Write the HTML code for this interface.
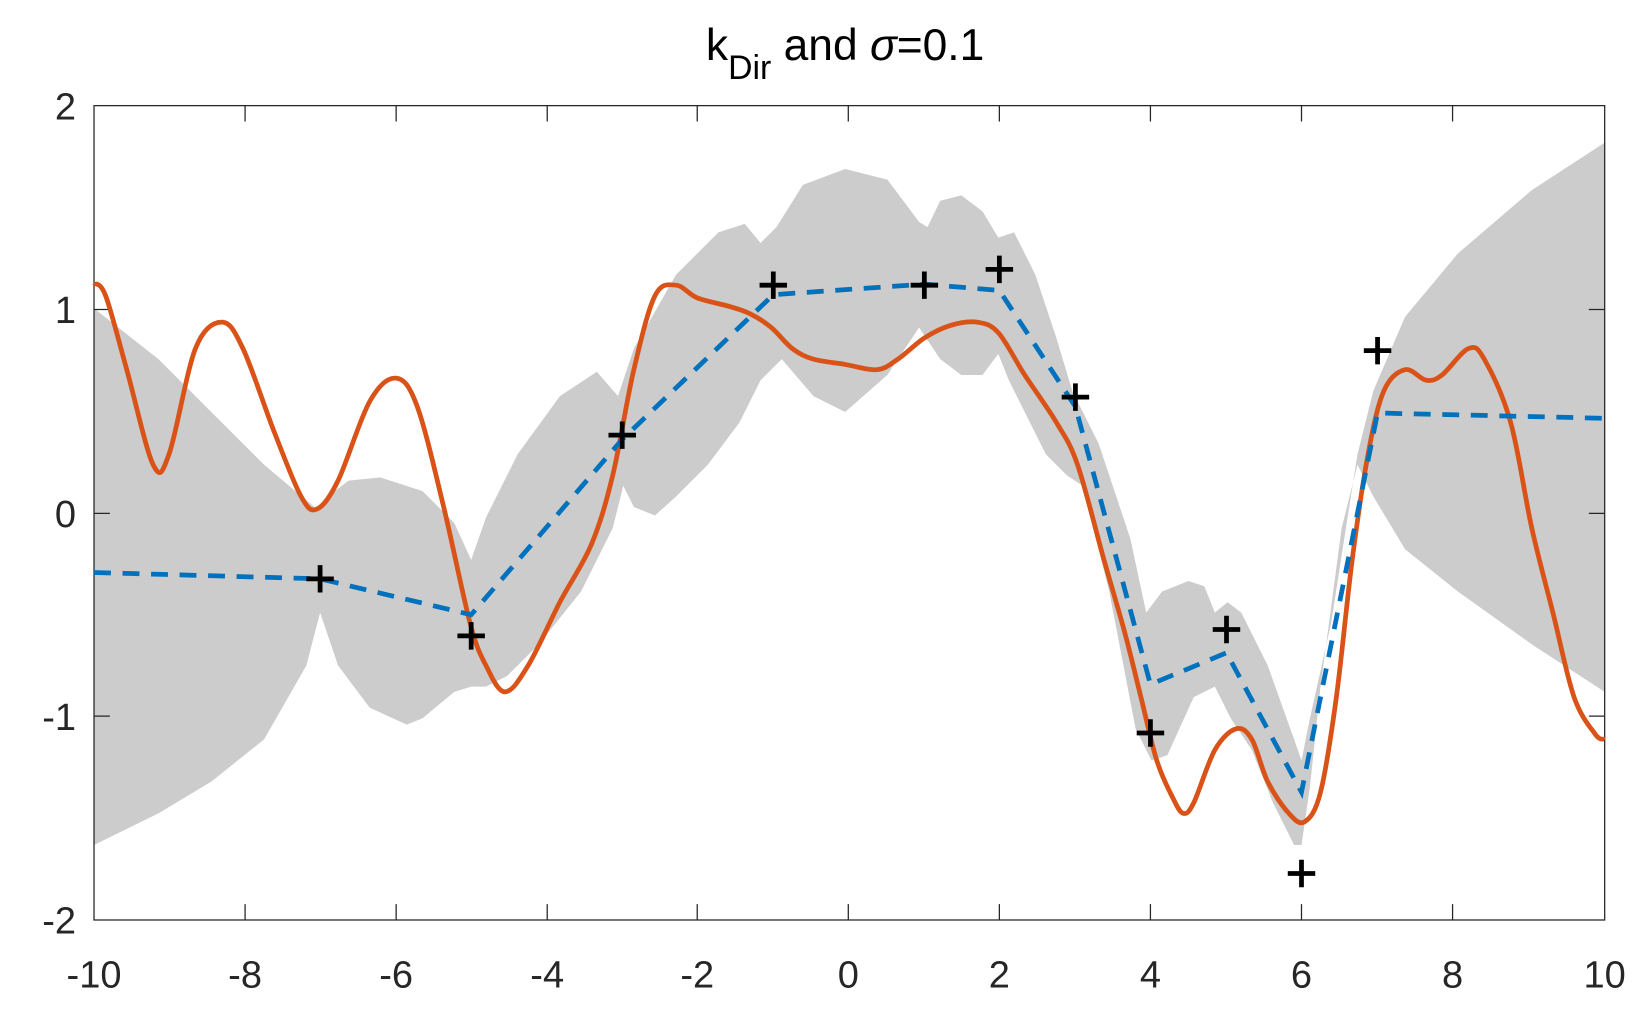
<!DOCTYPE html>
<html><head><meta charset="utf-8"><style>html,body{margin:0;padding:0;background:#fff}svg{display:block}</style></head>
<body>
<svg id="s" width="1648" height="1014" viewBox="0 0 1560 960" preserveAspectRatio="none" xmlns="http://www.w3.org/2000/svg" font-family="Liberation Sans, sans-serif">
<rect width="1560" height="960" fill="#fff"/>
<path id="band" fill="#cccccc" stroke="none" d="M89,292 L150,340 L200,390 L250,440 L300,482 L310,470 L330,455 L360,452 L400,465 L430,495 L446,530 L460,490 L490,430 L530,375 L565,352 L585,375 L600,330 L640,260 L680,220 L705,212 L720,230 L735,215 L760,175 L800,160 L840,170 L870,210 L878,215 L890,190 L910,185 L930,200 L945,225 L960,220 L980,260 L1000,320 L1015,370 L1040,420 L1070,510 L1085,580 L1100,560 L1125,550 L1140,555 L1150,580 L1162,570 L1175,580 L1200,630 L1225,700 L1232,720 L1240,680 L1260,590 L1285,430 L1300,370 L1330,300 L1380,240 L1450,180 L1519,135 L1519,655 L1450,610 L1380,560 L1330,520 L1300,470 L1285,440 L1270,500 L1250,650 L1240,745 L1232,800 L1225,800 L1205,760 L1185,710 L1165,680 L1150,650 L1130,660 L1105,715 L1090,720 L1075,690 L1050,560 L1025,460 L1010,450 L990,430 L970,390 L955,360 L945,335 L930,355 L910,355 L890,340 L870,310 L840,355 L800,390 L770,375 L740,340 L720,360 L700,400 L670,440 L640,470 L620,488 L600,480 L590,460 L580,500 L550,560 L510,610 L480,640 L460,650 L446,650 L430,655 L400,680 L385,686 L350,670 L320,630 L303,580 L290,630 L250,700 L200,740 L150,770 L89,800 Z"/>
<g stroke="#262626" stroke-width="1.2" fill="none">
<rect x="89" y="100" width="1430" height="771"/>
<path d="M232,871v-15M375,871v-15M518,871v-15M660,871v-15M803,871v-15M946,871v-15M1089,871v-15M1232,871v-15M1375,871v-15M232,100v15M375,100v15M518,100v15M660,100v15M803,100v15M946,100v15M1089,100v15M1232,100v15M1375,100v15M89,293h15M89,486h15M89,678h15M1519,293h-15M1519,486h-15M1519,678h-15"/>
</g>
<path id="orange" fill="none" stroke="#D95319" stroke-width="4.5" stroke-linejoin="round" d=""/>
<polyline fill="none" stroke="#0072BD" stroke-width="4.5" stroke-dasharray="16,11" points="89,542 303,548 446,582 589,416 732,279 875,269 946,275 1018,385 1089,648 1161,618 1232,750 1304,391 1519,396"/>
<g stroke="#000" stroke-width="4.5">
<path d="M290,548h26M303,535v26M433,602h26M446,589v26M576,412h26M589,399v26M719,270h26M732,257v26M862,270h26M875,257v26M933,255h26M946,242v26M1005,376h26M1018,363v26M1076,694h26M1089,681v26M1148,596h26M1161,583v26M1219,827h26M1232,814v26M1291,332h26M1304,319v26"/>
</g>
<g font-size="36" fill="#262626" text-anchor="middle">
<text x="89" y="935">-10</text><text x="232" y="935">-8</text><text x="375" y="935">-6</text><text x="518" y="935">-4</text><text x="660" y="935">-2</text><text x="803" y="935">0</text><text x="946" y="935">2</text><text x="1089" y="935">4</text><text x="1232" y="935">6</text><text x="1375" y="935">8</text><text x="1519" y="935">10</text>
</g>
<g font-size="36" fill="#262626" text-anchor="end">
<text x="72" y="113">2</text><text x="72" y="306">1</text><text x="72" y="499">0</text><text x="72" y="691">-1</text><text x="72" y="884">-2</text>
</g>
<text x="800" y="57" font-size="42" fill="#000" text-anchor="middle">k<tspan font-size="32" dy="18">Dir</tspan><tspan dy="-18"> and </tspan><tspan font-style="italic">σ</tspan>=0.1</text>
</svg>
<script>
function smooth(pts,closed){
 var n=pts.length,d="M"+pts[0][0]+","+pts[0][1];
 function P(i){if(closed)return pts[(i+n)%n];return pts[Math.max(0,Math.min(n-1,i))];}
 var m=closed?n:n-1;
 for(var i=0;i<m;i++){var p0=P(i-1),p1=P(i),p2=P(i+1),p3=P(i+2);
  var c1=[p1[0]+(p2[0]-p0[0])/6,p1[1]+(p2[1]-p0[1])/6],c2=[p2[0]-(p3[0]-p1[0])/6,p2[1]-(p3[1]-p1[1])/6];
  d+="C"+c1[0].toFixed(1)+","+c1[1].toFixed(1)+" "+c2[0].toFixed(1)+","+c2[1].toFixed(1)+" "+p2[0]+","+p2[1];}
 return d+(closed?"Z":"");
}
function parse(s){return s.trim().split(/\s+/).map(function(t){return t.split(",").map(Number)});}
var o="89,268 100,280 120,350 145,440 160,430 185,330 210,305 230,330 260,410 285,470 300,482 320,455 350,380 375,358 395,385 420,480 445,590 460,630 478,655 500,630 530,570 560,515 580,450 600,350 620,280 640,270 660,282 690,290 710,297 730,310 750,330 770,340 800,345 830,350 850,340 875,320 900,308 925,305 945,315 970,355 1000,400 1020,440 1045,530 1065,600 1080,660 1095,720 1110,755 1120,770 1130,760 1150,710 1170,690 1185,700 1200,740 1220,770 1235,778 1250,750 1265,660 1280,530 1295,430 1310,370 1330,350 1350,360 1365,355 1390,330 1405,340 1430,400 1450,500 1470,580 1490,660 1510,695 1519,700";
document.getElementById("orange").setAttribute("d",smooth(parse(o),false));
</script>
</body></html>
